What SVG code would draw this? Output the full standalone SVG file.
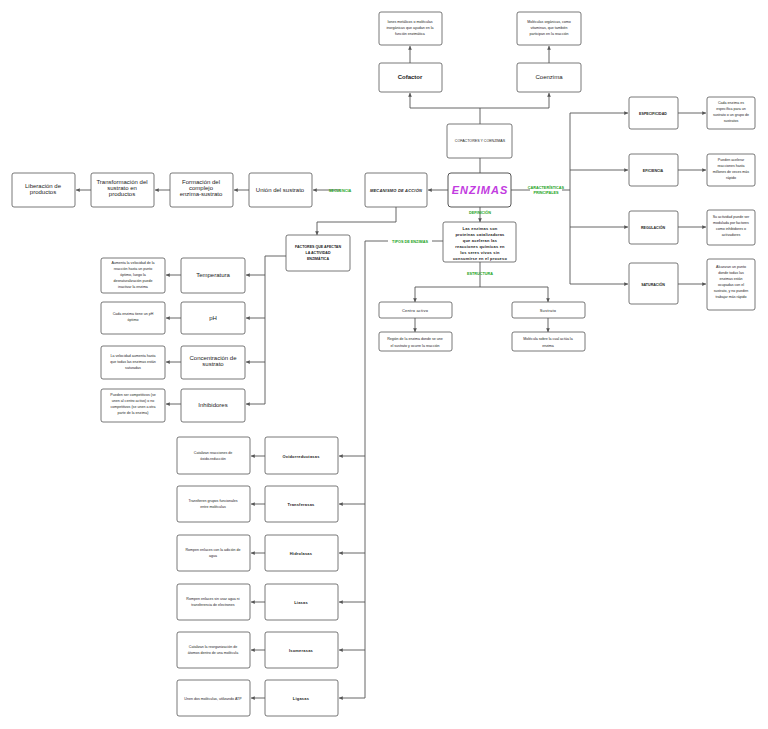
<svg xmlns="http://www.w3.org/2000/svg" width="768" height="729" viewBox="0 0 768 729">
<defs>
<marker id="a" viewBox="0 0 6 6" refX="5" refY="3" markerWidth="5" markerHeight="5" orient="auto"><path d="M0,0.5 L5,3 L0,5.5 z" fill="#555"/></marker>
<style>
rect{fill:#fff;stroke:#555;stroke-width:0.8}
.c path{fill:none;stroke:#555;stroke-width:0.9}
.c .ar{marker-end:url(#a)}
text{font-family:"Liberation Sans",Arial,sans-serif;text-anchor:middle;fill:#222}
.s{font-size:3.6px}
.m{font-size:6px}
.b{font-size:4px;font-weight:bold;letter-spacing:0.2px}
.g{font-size:3.8px;font-weight:bold;fill:#1aa31a}
</style>
</defs>
<rect x="0" y="0" width="768" height="729" style="fill:#fff;stroke:none"/>
<g class="c">
<path class="ar" d="M410,63 V46"/><path class="ar" d="M549,63 V46"/>
<path d="M480,124 V108 M410,108 H549"/><path class="ar" d="M410,108 V93"/><path class="ar" d="M549,108 V93"/>
<path d="M480,158 V173"/>
<path class="ar" d="M448,190 H428"/><path class="ar" d="M365,190 H313"/><path class="ar" d="M249,190 H234"/><path class="ar" d="M170,190 H155"/><path class="ar" d="M91,190 H76"/>
<path d="M396,207 V222 H317"/><path class="ar" d="M317,222 V235"/>
<path d="M286,256 H265 V404"/>
<path class="ar" d="M265,275 H246"/><path class="ar" d="M265,318 H246"/><path class="ar" d="M265,362 H246"/><path class="ar" d="M265,404 H246"/>
<path class="ar" d="M181,275 H166"/><path class="ar" d="M181,318 H166"/><path class="ar" d="M181,362 H166"/><path class="ar" d="M181,404 H166"/>
<path class="ar" d="M480,207 V222"/>
<path d="M480,262 V287 M415,287 H548"/><path class="ar" d="M415,287 V302"/><path class="ar" d="M548,287 V302"/>
<path class="ar" d="M415,318 V332"/><path class="ar" d="M548,318 V332"/>
<path d="M443,241 H365 V698"/>
<path class="ar" d="M365,456 H339"/><path class="ar" d="M365,504 H339"/><path class="ar" d="M365,553 H339"/><path class="ar" d="M365,602 H339"/><path class="ar" d="M365,650 H339"/><path class="ar" d="M365,698 H339"/>
<path class="ar" d="M265,456 H251"/><path class="ar" d="M265,504 H251"/><path class="ar" d="M265,553 H251"/><path class="ar" d="M265,602 H251"/><path class="ar" d="M265,650 H251"/><path class="ar" d="M265,698 H251"/>
<path d="M511,190 H570 M570,113 V284"/>
<path class="ar" d="M570,113 H628"/><path class="ar" d="M570,170 H628"/><path class="ar" d="M570,227 H628"/><path class="ar" d="M570,284 H628"/>
<path class="ar" d="M678,113 H706"/><path class="ar" d="M678,170 H706"/><path class="ar" d="M678,227 H706"/><path class="ar" d="M678,284 H706"/>
</g>
<g>
<rect x="340" y="187" width="30" height="6" style="fill:#fff;stroke:none"/><text class="g" x="340" y="191.5">SECUENCIA</text>
<rect x="530" y="184" width="32" height="12" style="fill:#fff;stroke:none"/><text class="g" x="546" y="189">CARACTERÍSTICAS</text><text class="g" x="546" y="194">PRINCIPALES</text>
<text class="g" x="480" y="214">DEFINICIÓN</text>
<text class="g" x="480" y="275">ESTRUCTURA</text>
<rect x="388" y="238" width="44" height="6" style="fill:#fff;stroke:none"/><text class="g" x="410" y="242.5">TIPOS DE ENZIMAS</text>
</g>
<g id="enzimas"><rect x="448" y="173" width="63" height="34" rx="3" style="stroke-width:1"/><text x="480" y="194" style="font-size:11px;font-weight:bold;font-style:italic;fill:#c23ce0;letter-spacing:1px">ENZIMAS</text></g>
<g id="cofactores"><rect x="447" y="124" width="65" height="34" rx="2"/><text class="s" x="480" y="142">COFACTORES Y COENZIMAS</text></g>
<g id="cofactor"><rect x="379" y="63" width="63" height="29" rx="2"/><text class="m" x="410" y="79" font-weight="bold">Cofactor</text></g>
<g id="coenzima"><rect x="517" y="63" width="64" height="29" rx="2"/><text class="m" x="549" y="79">Coenzima</text></g>
<g id="cofactor-d"><rect x="379" y="12" width="63" height="33" rx="2"/><text class="s" x="410" y="23">Iones metálicos o moléculas</text><text class="s" x="410" y="29">inorgánicas que ayudan en la</text><text class="s" x="410" y="35">función enzimática</text></g>
<g id="coenzima-d"><rect x="517" y="12" width="64" height="33" rx="2"/><text class="s" x="549" y="23">Moléculas orgánicas, como</text><text class="s" x="549" y="29">vitaminas, que también</text><text class="s" x="549" y="35">participan en la reacción</text></g>
<g id="mecanismo"><rect x="365" y="173" width="62" height="34" rx="2"/><text class="b" x="396" y="191.5" font-style="italic">MECANISMO DE ACCIÓN</text></g>
<g id="union"><rect x="249" y="173" width="63" height="34" rx="2"/><text class="m" x="280" y="192">Unión del sustrato</text></g>
<g id="formacion"><rect x="170" y="173" width="63" height="34" rx="2"/><text class="m" x="201" y="184">Formación del</text><text class="m" x="201" y="190">complejo</text><text class="m" x="201" y="196">enzima-sustrato</text></g>
<g id="transformacion"><rect x="91" y="173" width="63" height="34" rx="2"/><text class="m" x="122" y="184">Transformación del</text><text class="m" x="122" y="190">sustrato en</text><text class="m" x="122" y="196">productos</text></g>
<g id="liberacion"><rect x="12" y="173" width="63" height="34" rx="2"/><text class="m" x="43" y="188">Liberación de</text><text class="m" x="43" y="194">productos</text></g>
<g id="factores"><rect x="286" y="235" width="64" height="36" rx="2"/><text class="s" x="318" y="248" font-weight="bold">FACTORES QUE AFECTAN</text><text class="s" x="318" y="254" font-weight="bold">LA ACTIVIDAD</text><text class="s" x="318" y="260" font-weight="bold">ENZIMÁTICA</text></g>
<g id="temp"><rect x="181" y="258" width="64" height="35" rx="2"/><text class="m" x="213" y="277">Temperatura</text></g>
<g id="ph"><rect x="181" y="302" width="64" height="32" rx="2"/><text class="m" x="213" y="320">pH</text></g>
<g id="conc"><rect x="181" y="346" width="64" height="33" rx="2"/><text class="m" x="213" y="360">Concentración de</text><text class="m" x="213" y="366">sustrato</text></g>
<g id="inh"><rect x="181" y="389" width="64" height="33" rx="2"/><text class="m" x="213" y="407">Inhibidores</text></g>
<g id="temp-d"><rect x="101" y="258" width="64" height="35" rx="2"/><text class="s" x="133" y="264">Aumenta la velocidad de la</text><text class="s" x="133" y="270">reacción hasta un punto</text><text class="s" x="133" y="276">óptimo, luego la</text><text class="s" x="133" y="282">desnaturalización puede</text><text class="s" x="133" y="288">inactivar la enzima</text></g>
<g id="ph-d"><rect x="101" y="302" width="64" height="32" rx="2"/><text class="s" x="133" y="315">Cada enzima tiene un pH</text><text class="s" x="133" y="321">óptimo</text></g>
<g id="conc-d"><rect x="101" y="346" width="64" height="33" rx="2"/><text class="s" x="133" y="357">La velocidad aumenta hasta</text><text class="s" x="133" y="363">que todas las enzimas están</text><text class="s" x="133" y="369">saturadas</text></g>
<g id="inh-d"><rect x="101" y="389" width="64" height="33" rx="2"/><text class="s" x="133" y="396">Pueden ser competitivos (se</text><text class="s" x="133" y="402">unen al centro activo) o no</text><text class="s" x="133" y="408">competitivos (se unen a otra</text><text class="s" x="133" y="414">parte de la enzima)</text></g>
<g id="def"><rect x="443" y="222" width="73" height="40" rx="2"/><text class="b" x="480" y="230">Las enzimas son</text><text class="b" x="480" y="236">proteínas catalizadoras</text><text class="b" x="480" y="242">que aceleran las</text><text class="b" x="480" y="248">reacciones químicas en</text><text class="b" x="480" y="254">los seres vivos sin</text><text class="b" x="480" y="260">consumirse en el proceso</text></g>
<g id="centro"><rect x="379" y="302" width="73" height="16" rx="2"/><text class="b" x="415" y="311.5" style="font-weight:normal">Centro activo</text></g>
<g id="sustrato"><rect x="512" y="302" width="73" height="16" rx="2"/><text class="b" x="548" y="311.5" style="font-weight:normal">Sustrato</text></g>
<g id="centro-d"><rect x="379" y="332" width="73" height="19" rx="2"/><text class="s" x="415" y="340">Región de la enzima donde se une</text><text class="s" x="415" y="347">el sustrato y ocurre la reacción</text></g>
<g id="sustrato-d"><rect x="512" y="332" width="73" height="19" rx="2"/><text class="s" x="548" y="340">Molécula sobre la cual actúa la</text><text class="s" x="548" y="347">enzima</text></g>
<g id="oxi"><rect x="265" y="437" width="73" height="37" rx="2"/><text class="b" x="301" y="457.5">Oxidorreductasas</text></g>
<g id="trans"><rect x="265" y="486" width="73" height="36" rx="2"/><text class="b" x="301" y="505.5">Transferasas</text></g>
<g id="hidro"><rect x="265" y="535" width="73" height="36" rx="2"/><text class="b" x="301" y="554.5">Hidrolasas</text></g>
<g id="liasas"><rect x="265" y="584" width="73" height="36" rx="2"/><text class="b" x="301" y="603.5">Liasas</text></g>
<g id="iso"><rect x="265" y="632" width="73" height="36" rx="2"/><text class="b" x="301" y="651.5">Isomerasas</text></g>
<g id="liga"><rect x="265" y="680" width="73" height="36" rx="2"/><text class="b" x="301" y="699.5">Ligasas</text></g>
<g id="oxi-d"><rect x="177" y="437" width="73" height="37" rx="2"/><text class="s" x="213" y="454">Catalizan reacciones de</text><text class="s" x="213" y="460">óxido-reducción</text></g>
<g id="trans-d"><rect x="177" y="486" width="73" height="36" rx="2"/><text class="s" x="213" y="502">Transfieren grupos funcionales</text><text class="s" x="213" y="508">entre moléculas</text></g>
<g id="hidro-d"><rect x="177" y="535" width="73" height="36" rx="2"/><text class="s" x="213" y="551">Rompen enlaces con la adición de</text><text class="s" x="213" y="557">agua</text></g>
<g id="liasas-d"><rect x="177" y="584" width="73" height="36" rx="2"/><text class="s" x="213" y="600">Rompen enlaces sin usar agua ni</text><text class="s" x="213" y="606">transferencia de electrones</text></g>
<g id="iso-d"><rect x="177" y="632" width="73" height="36" rx="2"/><text class="s" x="213" y="648">Catalizan la reorganización de</text><text class="s" x="213" y="654">átomos dentro de una molécula</text></g>
<g id="liga-d"><rect x="177" y="680" width="73" height="36" rx="2"/><text class="s" x="213" y="699.5">Unen dos moléculas, utilizando ATP</text></g>
<g id="esp"><rect x="629" y="97" width="49" height="32" rx="2"/><text class="s" x="653" y="114.5" font-weight="bold">ESPECIFICIDAD</text></g>
<g id="efi"><rect x="629" y="154" width="49" height="32" rx="2"/><text class="s" x="653" y="171.5" font-weight="bold">EFICIENCIA</text></g>
<g id="reg"><rect x="629" y="211" width="49" height="33" rx="2"/><text class="s" x="653" y="228.5" font-weight="bold">REGULACIÓN</text></g>
<g id="sat"><rect x="629" y="263" width="49" height="41" rx="2"/><text class="s" x="653" y="285.5" font-weight="bold">SATURACIÓN</text></g>
<g id="esp-d"><rect x="707" y="97" width="48" height="32" rx="2"/><text class="s" x="731" y="104">Cada enzima es</text><text class="s" x="731" y="110">específica para un</text><text class="s" x="731" y="116">sustrato o un grupo de</text><text class="s" x="731" y="122">sustratos</text></g>
<g id="efi-d"><rect x="707" y="154" width="48" height="32" rx="2"/><text class="s" x="731" y="161">Pueden acelerar</text><text class="s" x="731" y="167">reacciones hasta</text><text class="s" x="731" y="173">millones de veces más</text><text class="s" x="731" y="179">rápido</text></g>
<g id="reg-d"><rect x="707" y="210" width="48" height="35" rx="2"/><text class="s" x="731" y="218">Su actividad puede ser</text><text class="s" x="731" y="224">modulada por factores</text><text class="s" x="731" y="230">como inhibidores o</text><text class="s" x="731" y="236">activadores</text></g>
<g id="sat-d"><rect x="707" y="259" width="48" height="51" rx="2"/><text class="s" x="731" y="268">Alcanzan un punto</text><text class="s" x="731" y="274">donde todas las</text><text class="s" x="731" y="280">enzimas están</text><text class="s" x="731" y="286">ocupadas con el</text><text class="s" x="731" y="292">sustrato, y no pueden</text><text class="s" x="731" y="298">trabajar más rápido</text></g>
</svg>
